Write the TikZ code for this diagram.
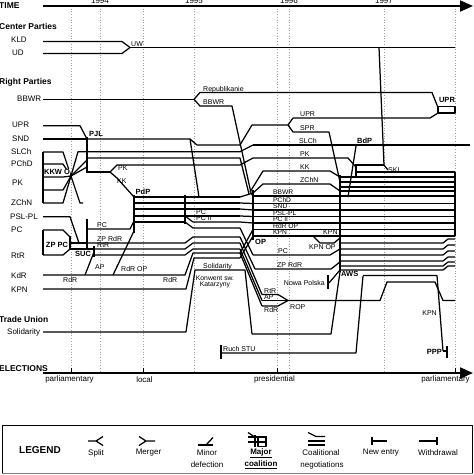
\documentclass[tikz,border=0pt]{standalone}
\usepackage{fontspec}
\setmainfont{Liberation Sans}
\usetikzlibrary{arrows.meta}
\begin{document}
\begin{tikzpicture}[x=1pt,y=-1pt,
  pl/.style={line width=1.25pt, line join=round},
  cbar/.style={line width=2.4pt},
  gridl/.style={gray!75, dotted, line width=0.7pt},
  axisl/.style={line width=1.9pt, -{Triangle[length=13pt,width=11pt]}},
  pn/.style={font=\fontsize{8}{8}\selectfont, anchor=west, inner sep=0pt},
  hd/.style={font=\bfseries\fontsize{8.5}{8.5}\selectfont, anchor=west, inner sep=0pt},
  sl/.style={font=\fontsize{7}{7}\selectfont, inner sep=0pt},
  ol/.style={font=\fontsize{6.7}{6.7}\selectfont, anchor=base west, inner sep=0pt},
  cn/.style={font=\bfseries\fontsize{7.5}{7.5}\selectfont, inner sep=0pt},
  lg/.style={font=\fontsize{8}{8}\selectfont, inner sep=0pt},
  yl/.style={font=\fontsize{8}{8}\selectfont, anchor=base, inner sep=0pt}
]
\useasboundingbox (0,0) rectangle (474,475);

% ---------- grid and axes ----------
\foreach \x in {71,100,143,194,277,289,384,455} \draw[gridl] (\x,6) -- (\x,373);
\draw[axisl] (43,6) -- (473,6);
\draw[axisl] (43,373) -- (473,373);
\foreach \x in {71,143,277,455} \draw[line width=1pt] (\x,368) -- (\x,373);
\node[yl] (y94) at (100,3.2) {1994};
\node[yl] (y95) at (194,3.2) {1995};
\node[yl] (y96) at (289,3.2) {1996};
\node[yl] (y97) at (384,3.2) {1997};

% ---------- headers ----------
\node[hd] (hTime) at (-1,6) {TIME};
\node[hd] (hCen) at (-1,26) {Center Parties};
\node[hd] (hRight) at (-1,82) {Right Parties};
\node[hd] (hTU) at (-1,319) {Trade Union};
\node[hd] (hEl) at (-1,369) {ELECTIONS};

% ---------- party names ----------
\node[pn] (nKLD) at (11,39.5) {KLD};
\node[pn] (nUD) at (12,52.5) {UD};
\node[pn] (nBBWR) at (17,99) {BBWR};
\node[pn] (nUPR) at (12,125) {UPR};
\node[pn] (nSND) at (12,138.5) {SND};
\node[pn] (nSLCh) at (11,151.5) {SLCh};
\node[pn] (nPChD) at (11,163.5) {PChD};
\node[pn] (nPK) at (12,183) {PK};
\node[pn] (nZChN) at (11,203) {ZChN};
\node[pn] (nPSL) at (10,216.5) {PSL-PL};
\node[pn] (nPC) at (11,229.5) {PC};
\node[pn] (nRtR) at (11,256) {RtR};
\node[pn] (nKdR) at (11,276) {KdR};
\node[pn] (nKPN) at (11,289.5) {KPN};
\node[pn] (nSol) at (7,332) {Solidarity};

% ---------- center parties ----------
\draw[pl] (43,41.5) -- (122,41.5) -- (130,47.5);
\draw[pl] (43,53.5) -- (122,53.5) -- (130,47.5);
\draw[pl] (130,47.5) -- (455,47.5);
\node[sl, anchor=base west] (lUW) at (131,46.3) {UW};
\draw[pl] (379,47.5) -- (384,165) -- (388,170);
\node[sl, anchor=west] (lSKL) at (388,170) {SKL};

% ---------- BBWR ----------
\draw[pl] (43,99.3) -- (194,99.3);
\draw[pl] (194,99.3) -- (200,92.5) -- (432,92.5) -- (438,107.5);
\node[sl, anchor=base west] (lRep) at (203,91.2) {Republikanie};
\draw[pl] (194,99.3) -- (200,106) -- (232,106) -- (251,193) -- (253,196);
\node[sl, anchor=base west] (lBB) at (203,104.7) {BBWR};
\draw[pl] (438,106.5) rectangle (455,113);
\node[cn] (lUPRbox) at (447,100) {UPR};
\draw[pl] (293,118) -- (430,118) -- (438,113);
\draw[pl] (252,125) -- (288,125) -- (293,118);
\draw[pl] (288,125) -- (293,132) -- (329,132) -- (340,182);
\node[sl, anchor=base west] (lUPR2) at (300,116.8) {UPR};
\node[sl, anchor=base west] (lSPR) at (300,130.8) {SPR};

% ---------- right of the knot ----------
\draw[pl] (253,145) -- (470,145);
\node[sl, anchor=base west] (lSLCh2) at (299,143.8) {SLCh};
\draw[pl] (253,158) -- (348,158) -- (356,167);
\node[sl, anchor=base west] (lPK2) at (300,156.8) {PK};
\draw[pl] (250,192) -- (263,171) -- (330,171) -- (340,177);
\node[sl, anchor=base west] (lKK2) at (300,169.8) {KK};
\draw[pl] (253,193) -- (263,184) -- (330,184) -- (340,191);
\node[sl, anchor=base west] (lZChN2) at (300,182.8) {ZChN};

% BdP
\draw[pl] (348,197) -- (356,146);
\node[cn, anchor=west] (lBdP) at (357,140.5) {BdP};
\draw[line width=1.8pt] (356,164) -- (356,178);
\draw[pl] (356,165) -- (384,165);
\draw[pl] (356,172) -- (455,172);

% ---------- PJL ----------
\draw[pl] (43,125.7) -- (80,125.7) -- (87,139);
\draw[pl] (43,139) -- (87,139);
\draw[cbar] (87,137) -- (87,173);
\node[cn] (lPJL) at (96,133.5) {PJL};
\draw[pl] (87,139) -- (190,139) -- (197,145) -- (240,145) -- (252,125);
\draw[pl] (190,139) -- (199,197);
\draw[pl] (87,158) -- (240,158) -- (249,194);
\draw[pl] (87,172) -- (110,172);
\draw[pl] (110,172) -- (117,165) -- (240,165) -- (253,158);
\draw[pl] (110,172) -- (117,178) -- (134,197);
\node[sl, anchor=west] (lPK1) at (118,168.5) {PK};
\node[sl, anchor=west] (lKK1) at (117,181.5) {KK};

% ---------- KKW O ----------
\coordinate (K) at (71,176);
\draw[pl] (43,152) -- (43,203);
\foreach \yy in {152,164,177,190,203} \draw[pl] (43,\yy) -- (63,\yy) -- (K);
\draw[pl] (K) -- (78,151.7) -- (240,151.7) -- (253,145);
\draw[pl] (K) -- (87,160);
\draw[pl] (K) -- (87,167);
\draw[pl] (K) -- (80,203) -- (83,203);
\node[cn, fill=white, inner sep=0.4pt] (lKKW) at (57,172) {KKW O};

% ---------- ZP PC and SUC ----------
\draw[pl] (43,230) -- (43,255);
\draw[pl] (43,230) -- (63,230) -- (70,237);
\draw[pl] (43,255) -- (63,255) -- (70,249);
\draw[cbar] (70,236) -- (70,250);
\node[cn] (lZPPC) at (57,245) {ZP PC};
\draw[pl] (43,216.7) -- (70,216.7) -- (79,243);
\draw[pl] (70,243) -- (87,243);
\draw[pl] (70,249) -- (94,249);
\draw[cbar] (87,219) -- (87,249);
\draw[cbar] (94,246) -- (94,257);
\node[cn] (lSUC) at (83,254) {SUC};
\draw[pl] (87,229) -- (130,229) -- (134,221);
\node[sl, anchor=base west] (lPC1) at (97,227.8) {PC};
\draw[pl] (87,243) -- (185,243) -- (193,237) -- (240,237);
\node[sl, anchor=base west] (lZP1) at (97,241.8) {ZP RdR};
\draw[pl] (94,249) -- (185,249) -- (193,243) -- (240,243);
\node[sl, anchor=base west] (lRtR1) at (97,247.8) {RtR};
\draw[pl] (94,255) -- (185,255) -- (193,249) -- (240,249);

% KdR, KPN
\draw[pl] (43,275) -- (185,275) -- (193,253) -- (240,253);
\draw[pl] (43,289) -- (186,289) -- (194,258) -- (240,258);
\node[sl, anchor=west] (lRdR1) at (63,279.5) {RdR};
\node[sl, anchor=west] (lRdR2) at (163,279.5) {RdR};
\draw[pl] (85,275) -- (94,252);
\node[sl, anchor=west] (lAP1) at (95,267.5) {AP};
\draw[pl] (113,275) -- (134,231);
\node[sl, anchor=west] (lRdROP1) at (121,268.5) {RdR OP};

% ---------- PdP ----------
\draw[cbar] (134,195) -- (134,233);
\node[cn] (lPdP) at (143,192) {PdP};
\foreach \yy in {197,203,209,216,222} \draw[pl] (134,\yy) -- (185,\yy);
\draw[line width=1.7pt] (185,195) -- (185,224);
\foreach \yy in {197,203,209,216} \draw[pl] (185,\yy) -- (240,\yy);
\draw[pl] (185,216) -- (193,222) -- (240,222);
\draw[pl] (185,222) -- (193,228) -- (240,228);
\node[sl, anchor=base west] (lPC2) at (196,214.8) {PC};
\node[sl, anchor=base west] (lPCII) at (196,220.8) {PC II};

% ---------- knot into OP ----------
\draw[pl] (240,197) -- (253,193);
\draw[pl] (240,203) -- (253,203.5);
\draw[pl] (240,209) -- (253,210);
\draw[pl] (240,216) -- (253,216.5);
\draw[pl] (240,222) -- (253,223);
\draw[pl] (240,228) -- (253,255);
\draw[pl] (240,237) -- (255,269);
\draw[pl] (240,243) -- (262,294.5);
\draw[pl] (240,249) -- (262,300.5);
\draw[pl] (240,253) -- (262,306);
\draw[pl] (240,253) -- (253,229.5);
\draw[pl] (240,258) -- (253,236);

% OP
\draw[cbar] (253,190) -- (253,240);
\node[cn, anchor=west] (lOP) at (255,241.5) {OP};
\foreach \yy/\tt in {196/BBWR,203.5/PChD,210/SND,216.5/PSL-PL,223/PC II,229.5/RdR OP,236/KPN}{
  \draw[pl] (253,\yy) -- (340,\yy);
  \node[ol] at (273,\yy-1.1) {\tt};
}
\draw[pl] (313,236) -- (320,243) -- (334,243) -- (340,238);
\node[sl, anchor=base west] (lKPN3) at (323,234.8) {KPN};
\node[sl, anchor=west] (lKPNOP) at (309,247.5) {KPN OP};

\draw[pl] (253,255) -- (330,255) -- (340,249);
\node[sl, anchor=base west] (lPC3) at (278,253.8) {PC};
\draw[pl] (255,269) -- (331,269) -- (340,262);
\node[sl, anchor=base west] (lZP3) at (277,267.8) {ZP RdR};
\draw[pl] (328,275) -- (328,289);
\draw[pl] (329,283) -- (340,270);
\node[sl, anchor=east] (lNowa) at (325,282.5) {Nowa Polska};

% ROP
\draw[pl] (262,294.5) -- (278,294.5) -- (288,300.5);
\draw[pl] (262,300.5) -- (288,300.5);
\draw[pl] (262,306) -- (278,306) -- (288,300.5);
\draw[pl] (288,300.5) -- (380,300.5) -- (387,282) -- (435,282) -- (443,300.5) -- (455,300.5);
\node[sl, anchor=base west] (lRtR3) at (264,293.3) {RtR};
\node[sl, anchor=base west] (lAP3) at (264,299.3) {AP};
\node[sl, anchor=base west] (lRdR3) at (264,312) {RdR};
\node[sl, anchor=west] (lROP) at (290,307.5) {ROP};

% Solidarity
\draw[pl] (43,332) -- (186,332) -- (195,270) -- (245,270) -- (252,334) -- (331,334) -- (340,272);
\node[sl, anchor=base west] (lSol) at (203,268.8) {Solidarity};
\node[sl, align=center, font=\fontsize{6.8}{6.3}\selectfont] (lKonw) at (215,282) {Konwent sw.\\Katarzyny};

% Ruch STU
\draw[pl] (221,345) -- (221,359);
\draw[pl] (221,353) -- (356,353) -- (363,276);
\node[sl, anchor=base west] (lRuch) at (223,351.8) {Ruch STU};

% ---------- AWS ----------
\draw[cbar] (340,175) -- (340,272);
\node[cn, anchor=west] (lAWS) at (341,274) {AWS};
\foreach \yy in {177,182,187,191,196,203.5,210,216.5,223,229.5,236} \draw[pl] (340,\yy) -- (455,\yy);
\foreach \yy in {243,249,255,261,266,270} \draw[pl] (340,\yy) -- (443,\yy) -- (448,\yy-4) -- (455,\yy-4);
\draw[pl] (455,172) -- (455,236);
\draw[pl] (363,275.5) -- (437,275.5) -- (443,351);
\draw[pl] (443,351) -- (447,351);
\draw[pl] (447,346) -- (447,358);
\node[sl, anchor=east] (lKPN4) at (437,313) {KPN};
\node[cn, anchor=east] (lPPP) at (442,352) {PPP};

% ---------- elections ----------
\node[lg] (e1) at (69.5,379.5) {parliamentary};
\node[lg] (e2) at (144.5,379.5) {local};
\node[lg] (e3) at (274.5,379.5) {presidential};
\node[lg] (e4) at (445.5,379.5) {parliamentary};

% ---------- legend ----------
\draw[line width=0.9pt] (2,473.5) -- (2,425) -- (472.5,425) -- (472.5,473.5);
\draw[gray, line width=0.9pt] (2,473.5) -- (472.5,473.5);
\node[font=\bfseries\fontsize{10}{10}\selectfont, inner sep=0pt] (lLeg) at (40,450) {LEGEND};
% split
\draw[pl] (88,441) -- (96,441) -- (103,436.5);
\draw[pl] (96,441) -- (103,445.5);
\node[lg] (lSplit) at (96,453) {Split};
% merger
\draw[pl] (139,436.5) -- (146,441) -- (155,441);
\draw[pl] (139,445.5) -- (146,441);
\node[lg] (lMerg) at (148.5,453) {Merger};
% minor defection
\draw[pl] (198,445) -- (213,445);
\draw[pl] (206,445) -- (213,437.5);
\node[lg] (lMin1) at (207,453) {Minor};
\node[lg] (lMin2) at (207,465) {defection};
% major coalition
\draw[pl] (248,432.5) -- (254,436.5);
\draw[pl] (248,437) -- (267,437);
\draw[pl] (248,442) -- (267,442);
\draw[pl] (258,437) rectangle (266,446.5);
\draw[line width=1.8pt] (255,435) -- (255,447);
\node[lg, font=\bfseries\fontsize{8}{8}\selectfont] (lMaj1) at (261,453) {\underline{Major}};
\node[lg, font=\bfseries\fontsize{8}{8}\selectfont] (lMaj2) at (261,465) {\underline{coalition}};
% coalitional negotiations
\draw[pl] (308,432.5) -- (316,436.5) -- (325,436.5);
\draw[pl] (308,441) -- (325,441);
\draw[pl] (308,445) -- (325,445);
\node[lg] (lCoal1) at (321,453) {Coalitional};
\node[lg] (lCoal2) at (322,465) {negotiations};
% new entry
\draw[pl] (372,437) -- (372,445);
\draw[pl] (372,441) -- (387,441);
\node[lg] (lNew) at (381,453) {New entry};
% withdrawal
\draw[pl] (419,441) -- (437,441);
\draw[pl] (437,437) -- (437,445);
\node[lg] (lWith) at (438,453) {Withdrawal};
\end{tikzpicture}
\end{document}
